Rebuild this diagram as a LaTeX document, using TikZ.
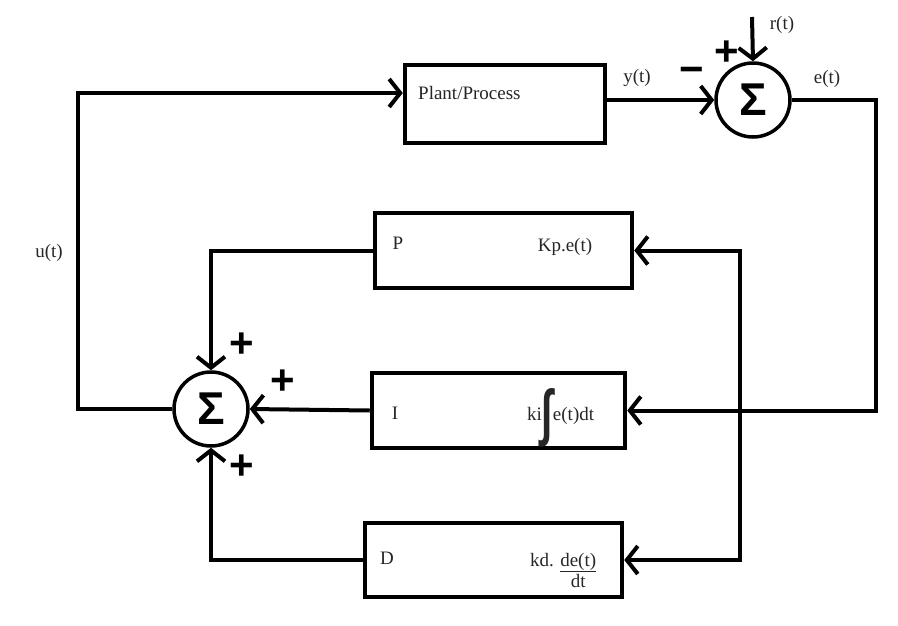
\documentclass[tikz,border=0pt]{standalone}
\usepackage{fontspec}
\setmainfont{Liberation Serif}
\newfontfamily\signfont{Liberation Sans}
\usepackage{graphicx}
\usetikzlibrary{arrows.meta,calc,positioning}

\begin{document}
\begin{tikzpicture}[x=1pt, y=-1pt, >={Straight Barb[length=11pt,width=28pt]},
    font=\fontsize{19}{22}\selectfont,
    wire/.style={line width=4pt, line join=miter},
    blockbox/.style={draw, line width=4.5pt, inner sep=0pt},
    summer/.style={draw, circle, line width=3.5pt, minimum size=74pt, inner sep=0pt,
      font=\signfont\bfseries\fontsize{46}{46}\selectfont},
    sgn/.style={font=\signfont\bfseries\fontsize{42}{42}\selectfont, inner sep=0pt},
    lbl/.style={text=black!85, inner sep=0pt}]
  \useasboundingbox (0,0) rectangle (898,625);
  % blocks
  \node[blockbox, minimum width=200pt, minimum height=78pt] (plant) at (505,104) {};
  \node[blockbox, minimum width=257pt, minimum height=75pt] (pbox) at (503.5,250.5) {};
  \node[blockbox, minimum width=253pt, minimum height=75pt] (ibox) at (498.5,410.5) {};
  \node[blockbox, minimum width=257pt, minimum height=74pt] (dbox) at (493.5,560) {};
  \node[summer] (tsum) at (753,100) {Σ};
  \node[summer] (bsum) at (211,409) {Σ};
  % texts
  \node[lbl, anchor=west] (plantlbl) at (418,93) {Plant/Process};
  \node[lbl] (plbl) at (398,243) {P};
  \node[lbl] (kplbl) at (565,247) {Kp.e(t)};
  \node[lbl] (ilbl) at (395,413) {I};
  \node[lbl, anchor=base west] (kilbl) at (527,420)
    {ki\raisebox{-13pt}{\resizebox{11pt}{45pt}{\signfont\bfseries ∫}}e(t)dt};
  \node[lbl] (dlbl) at (387,558) {D};
  \node[lbl, anchor=base west] (kdlbl) at (530,566)
    {kd. \begin{tabular}[t]{@{}c@{}}\underline{de(t)}\\[-1pt]dt\end{tabular}};
  \node[lbl] (ylbl) at (637,78) {y(t)};
  \node[lbl] (elbl) at (827,79) {e(t)};
  \node[lbl] (rlbl) at (782,25) {r(t)};
  \node[lbl] (ulbl) at (49,253) {u(t)};
  % signs
  \node[sgn] (tplus) at (727,53) {+};
  \node[sgn] (tminus) at (692,75) {−};
  \node[sgn] (pplus) at (242,345) {+};
  \node[sgn] (iplus) at (283,382) {+};
  \node[sgn] (dplus) at (242,467) {+};
  % corners of the loop
  \coordinate (rin) at (752,17);
  \coordinate (ucorner) at (78,93);
  \coordinate (ecorner) at (876,410.5);
  \coordinate (split) at (740,410.5);
  % connections
  \draw[wire, ->] (rin) -- (tsum.north);
  \draw[wire, ->] (plant.east |- tsum) -- (tsum.west);
  \draw[wire, ->] (tsum.east) -| (ecorner) -- (ibox.east);
  \draw[wire, ->] (split) |- (pbox.east);
  \draw[wire, ->] (split) |- (dbox.east);
  \draw[wire, ->] (pbox.west) -| (bsum.north);
  \draw[wire, ->] (ibox.west) -- (bsum.east);
  \draw[wire, ->] (dbox.west) -| (bsum.south);
  \draw[wire, ->] (bsum.west) -- (bsum.west -| ucorner) -- (ucorner) -- (ucorner -| plant.west);
\end{tikzpicture}
\end{document}
